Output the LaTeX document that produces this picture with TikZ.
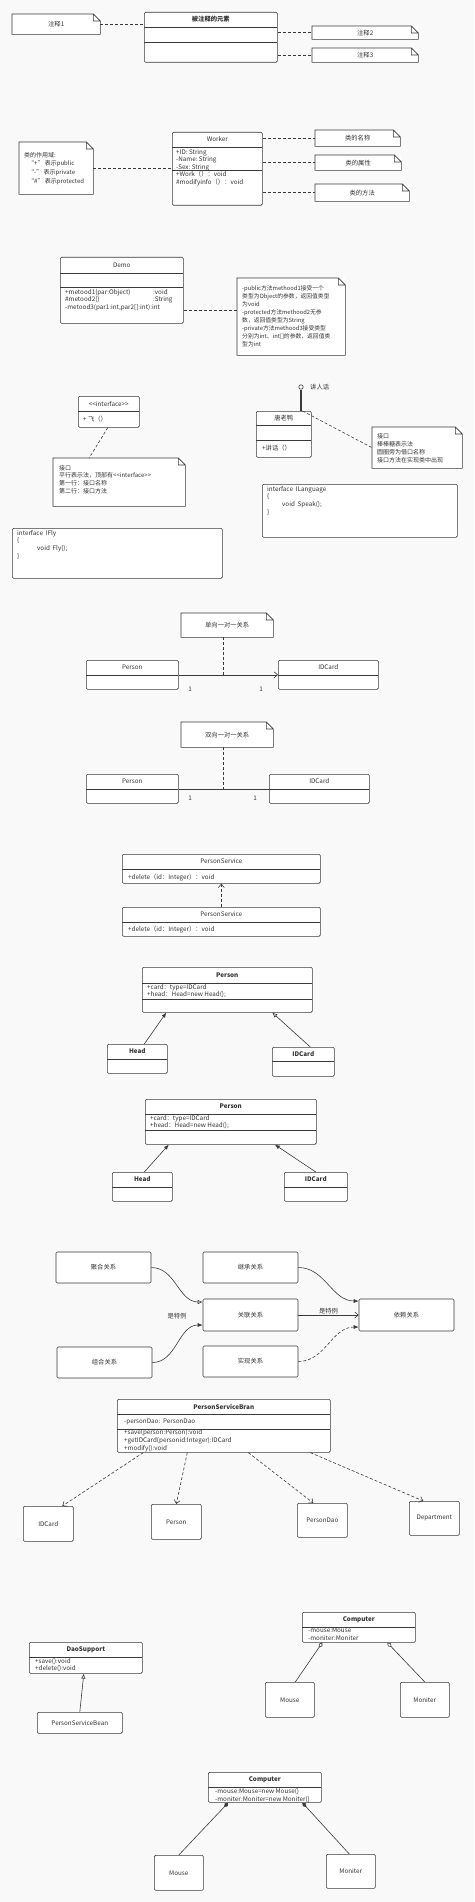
\documentclass[tikz,border=0pt]{standalone}
\usepackage{fontspec}
\setmainfont{Noto Sans CJK SC}
\usetikzlibrary{arrows.meta,positioning}
\definecolor{linec}{HTML}{3A3A3A}
\definecolor{textc}{HTML}{333333}
\definecolor{bgc}{HTML}{F9F9F9}

\tikzset{
 every node/.style={font=\fontsize{6.3}{7.6}\selectfont, text=textc},
 umlbox/.style={draw=linec, line width=.6pt, fill=white, rounded corners=1.2pt, anchor=north west, inner sep=0pt},
 notebox/.style={fill=white, anchor=north west, inner sep=0pt},
 member/.style={anchor=north west, align=left, inner sep=0pt},
 hdr/.style={inner sep=0pt},
 bhdr/.style={inner sep=0pt, font=\fontsize{6.3}{7.6}\selectfont\bfseries},
 sep/.style={draw=linec, line width=.6pt},
 link/.style={draw=linec, line width=.6pt},
 dashlink/.style={draw=linec, line width=.6pt, dash pattern=on 3pt off 2pt},
 fold/.style={draw=linec, line width=.6pt},
 openhead/.style={-{Straight Barb[length=3.5pt,width=6pt]}},
 filledhead/.style={-{Latex[length=5pt,width=4pt]}},
 hollowhead/.style={-{Latex[open,length=5pt,width=4.5pt]}},
 hollowdia/.style={-{Diamond[open,length=6pt,width=4pt]}},
 filleddia/.style={-{Diamond[length=6pt,width=4pt]}},
}

\begin{document}
\begin{tikzpicture}[x=1pt,y=-1pt,>=latex]
\useasboundingbox[fill=bgc] (0,0) rectangle (474,1902);

% annotated element
\node[notebox, minimum width=88pt, minimum height=20pt] (n1) at (12,14) {注释1};
\node[umlbox, minimum width=133pt, minimum height=50pt] (elem) at (144,12) {};
\draw[sep] (elem.north west) ++(0,15) -- ++(133,0);
\draw[sep] (elem.north west) ++(0,30) -- ++(133,0);
\node[bhdr] (elemT) at ([yshift=-7.5pt]elem.north) {被注释的元素};
\node[notebox, minimum width=106pt, minimum height=13pt] (n2) at (312,26) {注释2};
\node[notebox, minimum width=106pt, minimum height=14pt] (n3) at (312,48) {注释3};
\draw[dashlink] (n1.east) -- (n1.east -| elem.west);
\draw[dashlink] (elem.east |- n2.west) -- (n2.west);
\draw[dashlink] (elem.east |- n3.west) -- (n3.west);

% class Worker
\node[umlbox, minimum width=90pt, minimum height=73pt] (worker) at (172,132) {};
\draw[sep] (worker.north west) ++(0,15) -- ++(90,0);
\draw[sep] (worker.north west) ++(0,38) -- ++(90,0);
\node[hdr] (workerT) at ([yshift=-7.5pt]worker.north) {Worker};
\node[member] (workerA) at (176,149) {+ID:~String\\-Name:~String\\-Sex:~String};
\node[member] (workerM) at (176,171) {+Work（）：void\\\#modifyinfo（）：void};
\node[notebox, minimum width=74pt, minimum height=52pt] (nscope) at (19,142) {};
\node[member, font=\fontsize{6}{8.6}\selectfont] (nscopeT) at (24,152) {类的作用域:\\\hspace{4pt}“+”~表示public\\\hspace{4pt}“-”~表示private\\\hspace{4pt}“\#”~表示protected};
\node[notebox, minimum width=85pt, minimum height=16pt] (nname) at (315,130) {类的名称};
\node[notebox, minimum width=86pt, minimum height=15pt] (nattr) at (315,155) {类的属性};
\node[notebox, minimum width=94pt, minimum height=17pt] (nmeth) at (315,184) {类的方法};
\draw[dashlink] (nscope.east) -- (nscope.east -| worker.west);
\draw[dashlink] (worker.east |- nname.west) -- (nname.west);
\draw[dashlink] (worker.east |- nattr.west) -- (nattr.west);
\draw[dashlink] (worker.east |- nmeth.west) -- (nmeth.west);

% class Demo
\node[umlbox, minimum width=123pt, minimum height=66pt] (demo) at (60,257) {};
\draw[sep] (demo.north west) ++(0,16) -- ++(123,0);
\draw[sep] (demo.north west) ++(0,30) -- ++(123,0);
\node[hdr] (demoT) at ([yshift=-8pt]demo.north) {Demo};
\node[member] (demoM) at (65,289) {+metood1(par:Object)\\\#metood2()\\-metood3(par1:int,par2[]:int):int};
\node[member] (demoR) at (153,289) {:void\\:String};
\node[notebox, minimum width=108pt, minimum height=77pt] (ndemo) at (237,278) {};
\node[member, font=\fontsize{5.8}{8}\selectfont] (ndemoT) at (242,285) {-public方法methood1接受一个\\类型为Object的参数，返回值类型\\为void\\-protected方法methood2无参\\数，返回值类型为String\\-private方法methood3接受类型\\分别为int、int[]的参数，返回值类\\型为int};
\draw[dashlink] ([yshift=-20pt]demo.east) -- ([yshift=-20pt]demo.east -| ndemo.west);

% interface, stereotype form
\node[umlbox, minimum width=61pt, minimum height=31pt] (iface) at (78,396) {};
\draw[sep] (iface.north west) ++(0,15) -- ++(61,0);
\node[hdr] (ifaceT) at ([yshift=-7.5pt]iface.north) {<{}<interface>{}>};
\node[member] (ifaceM) at (83,415.5) {+ 飞（）};
\node[notebox, minimum width=132pt, minimum height=48pt] (niface) at (53,458) {};
\node[member, font=\fontsize{6}{7.7}\selectfont] (nifaceT) at (59,465) {接口\\平行表示法，顶部有<{}<interface>{}>\\第一行：接口名称\\第二行：接口方法};
\draw[dashlink] ([xshift=-1pt]iface.south) -- ([xshift=-30pt]niface.north);
\node[umlbox, minimum width=210pt, minimum height=50pt] (ifly) at (12,528) {};
\node[member] (iflyT) at (17,530) {interface~~IFly\\\{\\\hspace{20pt}void~~Fly();\\\}};

% interface, lollipop form
\node[umlbox, minimum width=55pt, minimum height=46pt] (duck) at (256,411) {};
\draw[sep] (duck.north west) ++(0,14) -- ++(55,0);
\draw[sep] (duck.north west) ++(0,29) -- ++(55,0);
\node[hdr] (duckT) at ([yshift=-7pt]duck.north) {唐老鸭};
\node[member] (duckM) at (262,444.5) {+讲话（）};
\node[circle, draw=linec, line width=.6pt, minimum size=4.4pt, inner sep=0pt, fill=white] (lolly) at (301,387) {};
\draw[link, line width=1.1pt] (lolly.south) -- (lolly.south |- duck.north);
\node[anchor=west, inner sep=0pt] (lollyT) at (310,387) {讲人话};
\node[notebox, minimum width=90pt, minimum height=41pt] (nduck) at (372,427) {};
\node[member, font=\fontsize{6}{8}\selectfont] (nduckT) at (377,433) {接口\\棒棒糖表示法\\圆圈旁为借口名称\\接口方法在实现类中出现};
\draw[dashlink] ([xshift=-9pt]duck.north east) -- (nduck.west);
\node[umlbox, minimum width=195pt, minimum height=53pt] (ilang) at (262,484) {};
\node[member] (ilangT) at (267,486) {interface~~ILanguage\\\{\\\hspace{15pt}void~~Speak();\\\}};

% one-way one-to-one
\node[notebox, minimum width=92pt, minimum height=24pt] (nuni) at (181,613) {单向一对一关系};
\node[umlbox, minimum width=92pt, minimum height=29pt] (p1) at (86,660) {};
\draw[sep] (p1.north west) ++(0,15) -- ++(92,0);
\node[hdr] (p1T) at ([yshift=-7.5pt]p1.north) {Person};
\node[umlbox, minimum width=100pt, minimum height=29pt] (c1) at (278,660) {};
\draw[sep] (c1.north west) ++(0,15) -- ++(100,0);
\node[hdr] (c1T) at ([yshift=-7.5pt]c1.north) {IDCard};
\draw[link, openhead] (p1.east) -- (c1.west);
\draw[dashlink] ([xshift=-4pt]nuni.south) -- ([xshift=-4pt]nuni.south |- p1.east);
\node (m1) at (190,689) {1};
\node (m2) at (261,689) {1};

% two-way one-to-one
\node[notebox, minimum width=92pt, minimum height=25pt] (nbi) at (181,722) {双向一对一关系};
\node[umlbox, minimum width=92pt, minimum height=29pt] (p2) at (86,774) {};
\draw[sep] (p2.north west) ++(0,15) -- ++(92,0);
\node[hdr] (p2T) at ([yshift=-7.5pt]p2.north) {Person};
\node[umlbox, minimum width=100pt, minimum height=29pt] (c2) at (269,774) {};
\draw[sep] (c2.north west) ++(0,15) -- ++(100,0);
\node[hdr] (c2T) at ([yshift=-7.5pt]c2.north) {IDCard};
\draw[link] (p2.east) -- (c2.west);
\draw[dashlink] ([xshift=-4pt]nbi.south) -- ([xshift=-4pt]nbi.south |- p2.east);
\node (m3) at (190,798) {1};
\node (m4) at (255,798) {1};

% dependency
\node[umlbox, minimum width=198pt, minimum height=29pt] (ps1) at (122,854) {};
\draw[sep] (ps1.north west) ++(0,15) -- ++(198,0);
\node[hdr] (ps1T) at ([yshift=-7.5pt]ps1.north) {PersonService};
\node[member] (ps1M) at (128,873.5) {+delete（id：Integer）：void};
\node[umlbox, minimum width=198pt, minimum height=29pt] (ps2) at (122,907) {};
\draw[sep] (ps2.north west) ++(0,15) -- ++(198,0);
\node[hdr] (ps2T) at ([yshift=-7.5pt]ps2.north) {PersonService};
\node[member] (ps2M) at (128,925.5) {+delete（id：Integer）：void};
\draw[dashlink, openhead] (ps2.north) -- (ps1.south);

% Person with Head / IDCard (1)
\node[umlbox, minimum width=170pt, minimum height=45pt] (per1) at (142,967) {};
\draw[sep] (per1.north west) ++(0,16) -- ++(170,0);
\draw[sep] (per1.north west) ++(0,32) -- ++(170,0);
\node[bhdr] (per1T) at ([yshift=-8pt]per1.north) {Person};
\node[member] (per1A) at (147,984) {+card：type=IDCard\\+head：Head=new Head();};
\node[umlbox, minimum width=60pt, minimum height=29pt] (head1) at (107,1044) {};
\draw[sep] (head1.north west) ++(0,15) -- ++(60,0);
\node[bhdr] (head1T) at ([yshift=-7.5pt]head1.north) {Head};
\node[umlbox, minimum width=62pt, minimum height=29pt] (card1) at (272,1047) {};
\draw[sep] (card1.north west) ++(0,14) -- ++(62,0);
\node[bhdr] (card1T) at ([yshift=-7pt]card1.north) {IDCard};
\draw[link, filledhead] ([xshift=7pt]head1.north) -- ([xshift=-61pt]per1.south);
\draw[link, hollowhead] ([xshift=7pt]card1.north) -- ([xshift=45pt]per1.south);

% Person with Head / IDCard (2)
\node[umlbox, minimum width=171pt, minimum height=45pt] (per2) at (145,1099) {};
\draw[sep] (per2.north west) ++(0,15) -- ++(171,0);
\draw[sep] (per2.north west) ++(0,31) -- ++(171,0);
\node[bhdr] (per2T) at ([yshift=-7.5pt]per2.north) {Person};
\node[member] (per2A) at (150,1115) {+card：type=IDCard\\+head：Head=new Head();};
\node[umlbox, minimum width=60pt, minimum height=29pt] (head2) at (112,1172) {};
\draw[sep] (head2.north west) ++(0,15) -- ++(60,0);
\node[bhdr] (head2T) at ([yshift=-7.5pt]head2.north) {Head};
\node[umlbox, minimum width=63pt, minimum height=29pt] (card2) at (284,1172) {};
\draw[sep] (card2.north west) ++(0,15) -- ++(63,0);
\node[bhdr] (card2T) at ([yshift=-7.5pt]card2.north) {IDCard};
\draw[link, filledhead] ([xshift=2pt]head2.north) -- ([xshift=-62pt]per2.south);
\draw[link, filledhead] (card2.north) -- ([xshift=44pt]per2.south);

% relations overview
\node[umlbox, minimum width=95pt, minimum height=31pt, anchor=center] (r1) at (103.5,1267.5) {聚合关系};
\node[umlbox, minimum width=95pt, minimum height=31pt, anchor=center] (r2) at (250.5,1267.5) {继承关系};
\node[umlbox, minimum width=95pt, minimum height=32pt, anchor=center] (r3) at (250.5,1315) {关联关系};
\node[umlbox, minimum width=95pt, minimum height=32pt, anchor=center] (r4) at (406.5,1315) {依赖关系};
\node[umlbox, minimum width=95pt, minimum height=31pt, anchor=center] (r5) at (104.5,1362.5) {组合关系};
\node[umlbox, minimum width=95pt, minimum height=31pt, anchor=center] (r6) at (250.5,1361.5) {实现关系};
\draw[link, hollowhead] (r1.east) to[out=0, in=180] ([yshift=13pt]r3.west);
\draw[link, filledhead] (r5.east) to[out=0, in=180] ([yshift=-10pt]r3.west);
\node (sp1) at (177,1316) {是特例};
\draw[link, openhead] (r3.east) -- node[above=1pt, inner sep=0pt] (sp2) {是特例} (r4.west);
\draw[link, filledhead] (r2.east) to[out=0, in=180] ([yshift=14pt]r4.west);
\draw[dashlink, filledhead] (r6.east) to[out=0, in=180] ([yshift=-12pt]r4.west);

% PersonServiceBran dependencies
\node[umlbox, minimum width=213pt, minimum height=53pt] (psb) at (117,1399) {};
\draw[sep] (psb.north west) ++(0,15) -- ++(213,0);
\draw[sep] (psb.north west) ++(0,30) -- ++(213,0);
\node[bhdr] (psbT) at ([yshift=-7.5pt]psb.north) {PersonServiceBran};
\node[member] (psbA) at (124,1418.5) {-personDao:~~PersonDao};
\node[member] (psbM) at (124,1429.5) {+save(person:Person):void\\+getIDCard(personid:Integer):IDCard\\+modify():void};
\node[umlbox, minimum width=50pt, minimum height=35pt] (d1) at (23,1506) {};
\node[hdr] (d1T) at (d1.center) {IDCard};
\node[umlbox, minimum width=50pt, minimum height=35pt] (d2) at (151,1504) {};
\node[hdr] (d2T) at (d2.center) {Person};
\node[umlbox, minimum width=50pt, minimum height=34pt] (d3) at (297,1503) {};
\node[hdr] (d3T) at (d3.center) {PersonDao};
\node[umlbox, minimum width=50pt, minimum height=34pt] (d4) at (409,1501) {};
\node[hdr] (d4T) at (d4.center) {Department};
\draw[dashlink, openhead] ([xshift=-80.5pt]psb.south) -- ([xshift=14pt]d1.north);
\draw[dashlink, openhead] ([xshift=-36.5pt]psb.south) -- (d2.north);
\draw[dashlink, openhead] ([xshift=24.5pt]psb.south) -- ([xshift=-9pt]d3.north);
\draw[dashlink, openhead] ([xshift=86.5pt]psb.south) -- ([xshift=-11pt]d4.north);

% generalization
\node[umlbox, minimum width=113pt, minimum height=31pt] (dao) at (29,1642) {};
\draw[sep] (dao.north west) ++(0,15) -- ++(113,0);
\node[bhdr] (daoT) at ([yshift=-7.5pt]dao.north) {DaoSupport};
\node[member] (daoM) at (35,1658) {+save():void\\+delete():void};
\node[umlbox, minimum width=85pt, minimum height=21pt] (bean) at (37,1712) {PersonServiceBean};
\draw[link, hollowhead] (bean.north) -- ([xshift=-2pt]dao.south);

% aggregation
\node[umlbox, minimum width=113pt, minimum height=30pt] (comp1) at (302,1612) {};
\draw[sep] (comp1.north west) ++(0,15) -- ++(113,0);
\node[bhdr] (comp1T) at ([yshift=-7.5pt]comp1.north) {Computer};
\node[member] (comp1A) at (308,1628) {-mouse:Mouse\\-moniter:Moniter};
\node[umlbox, minimum width=49pt, minimum height=35pt] (mouse1) at (265,1682) {};
\node[hdr] (mouse1T) at (mouse1.center) {Mouse};
\node[umlbox, minimum width=49pt, minimum height=35pt] (mon1) at (400,1682) {};
\node[hdr] (mon1T) at (mon1.center) {Moniter};
\draw[link, hollowdia] ([xshift=5.5pt]mouse1.north) -- ([xshift=-36.5pt]comp1.south);
\draw[link, hollowdia] (mon1.north) -- ([xshift=28.5pt]comp1.south);

% composition
\node[umlbox, minimum width=113pt, minimum height=30pt] (comp2) at (208,1772) {};
\draw[sep] (comp2.north west) ++(0,15) -- ++(113,0);
\node[bhdr] (comp2T) at ([yshift=-7.5pt]comp2.north) {Computer};
\node[member] (comp2A) at (215,1788.5) {-mouse:Mouse=new Mouse()\\-moniter:Moniter=new Moniter()};
\node[umlbox, minimum width=49pt, minimum height=35pt] (mouse2) at (154,1855) {};
\node[hdr] (mouse2T) at (mouse2.center) {Mouse};
\node[umlbox, minimum width=49pt, minimum height=34pt] (mon2) at (326,1854) {};
\node[hdr] (mon2T) at (mon2.center) {Moniter};
\draw[link, filleddia] (mouse2.north) -- ([xshift=-36.5pt]comp2.south);
\draw[link, filleddia] ([xshift=-1.5pt]mon2.north) -- ([xshift=37.5pt]comp2.south);

% folded corners of the notes
\foreach \n in {n1,n2,n3,nscope,nname,nattr,nmeth,ndemo,niface,nduck,nuni,nbi}
 \draw[fold] (\n.north west) -- ([xshift=-7pt]\n.north east) -- ([yshift=-7pt]\n.north east)
  -- (\n.south east) -- (\n.south west) -- cycle
  ([xshift=-7pt]\n.north east) |- ([yshift=-7pt]\n.north east);
\end{tikzpicture}
\end{document}
